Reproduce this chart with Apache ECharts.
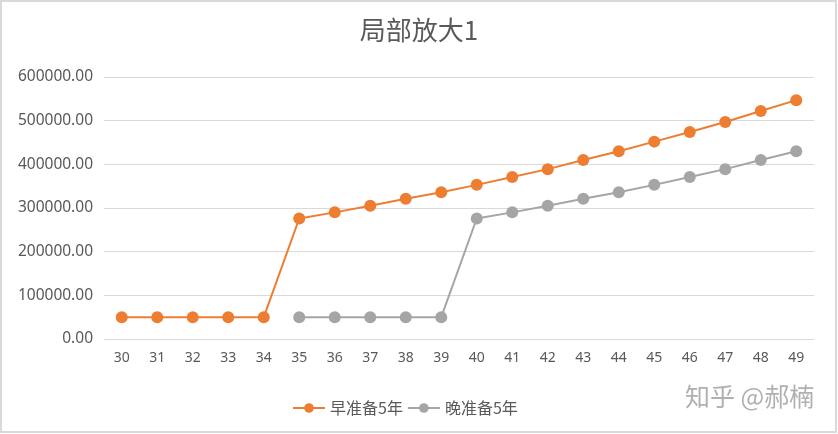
<!DOCTYPE html>
<html>
<head>
<meta charset="utf-8">
<script src="https://cdn.jsdelivr.net/npm/echarts@6/dist/echarts.min.js"></script>
<style>
  html, body { margin: 0; padding: 0; background: #fff; }
  #chart { width: 838px; height: 434px; }
</style>
</head>
<body>
<div id="chart"></div>
<script>
// ages on the x axis
const ages = ["30", "31", "32", "33", "34", "35", "36", "37", "38", "39",
  "40", "41", "42", "43", "44", "45", "46", "47", "48", "49"];

// 早准备5年
const early = [50000, 50000, 50000, 50000, 50000, 276000, 290000, 305000, 321000, 336000,
  353000, 371000, 389000, 410000, 430000, 452000, 474000, 497000, 522000, 547000];

// 晚准备5年 (starts at 35)
const late = [null, null, null, null, null, 50000, 50000, 50000, 50000, 50000,
  276000, 290000, 305000, 321000, 336000, 353000, 371000, 389000, 410000, 430000];

const TEXT = "#595959";
const GRID = "#d9d9d9";
const FONT = "'Noto Sans CJK SC', 'Noto Sans', sans-serif";

const chartDom = document.getElementById("chart");
const myChart = echarts.init(chartDom, null, { renderer: "canvas" });

const option = {
  animation: false,
  backgroundColor: "#fff",
  title: {
    text: "局部放大1",
    left: "center",
    top: 12,
    textStyle: { color: TEXT, fontSize: 26, fontWeight: "normal", fontFamily: FONT },
  },
  grid: { left: 104, right: 24, top: 77, bottom: 95 },
  legend: {
    bottom: 13,
    left: 287,
    itemWidth: 32,
    itemHeight: 12,
    itemGap: 4,
    textStyle: { color: TEXT, fontSize: 16, fontFamily: FONT },
    data: ["早准备5年", "晚准备5年"],
  },
  xAxis: {
    type: "category",
    data: ages,
    boundaryGap: true,
    axisLine: { lineStyle: { color: GRID, width: 1 } },
    axisTick: { show: false },
    axisLabel: { color: TEXT, fontSize: 14, fontFamily: "'Noto Sans', sans-serif", margin: 12 },
  },
  yAxis: {
    type: "value",
    min: 0,
    max: 600000,
    interval: 100000,
    axisLine: { show: false },
    axisTick: { show: false },
    splitLine: { lineStyle: { color: GRID, width: 1 } },
    axisLabel: {
      color: TEXT,
      fontSize: 15.5,
      fontFamily: "'Noto Sans', sans-serif",
      margin: 11,
      formatter: (v) => v.toFixed(2),
    },
  },
  series: [
    {
      name: "早准备5年",
      type: "line",
      data: early,
      symbol: "circle",
      symbolSize: 12,
      lineStyle: { color: "#ED7D31", width: 2 },
      itemStyle: { color: "#ED7D31" },
    },
    {
      name: "晚准备5年",
      type: "line",
      data: late,
      symbol: "circle",
      symbolSize: 12,
      lineStyle: { color: "#A5A5A5", width: 2 },
      itemStyle: { color: "#A5A5A5" },
    },
  ],
  graphic: [
    {
      type: "rect",
      shape: { x: 1, y: 1, width: 835, height: 431 },
      style: { fill: "none", stroke: GRID, lineWidth: 2 },
      silent: true,
    },
    {
      type: "text",
      left: 685,
      top: 384,
      style: { text: "知乎 @郝楠", fill: "#b0b0b0", font: "25px 'Noto Sans CJK SC', sans-serif" },
      silent: true,
    },
  ],
};

myChart.setOption(option);
</script>
</body>
</html>
